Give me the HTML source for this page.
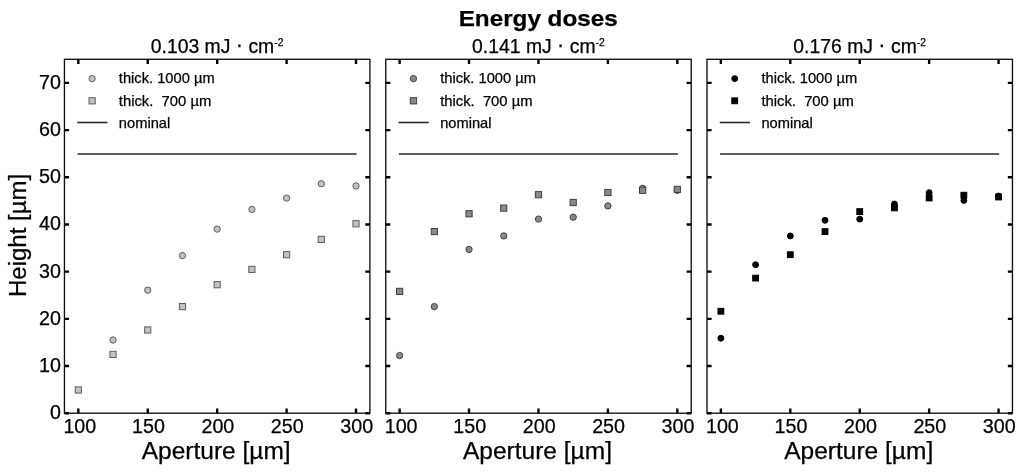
<!DOCTYPE html>
<html lang="en"><head><meta charset="utf-8"><title>Energy doses</title>
<style>html,body{margin:0;padding:0;background:#fff;}body{width:1024px;height:474px;overflow:hidden;}svg{display:block;filter:blur(0.3px);}text{font-family:"Liberation Sans", Arial, Helvetica, sans-serif;fill:#000;stroke:#000;stroke-width:0.25px;}</style></head><body>
<svg width="1024" height="474" viewBox="0 0 1024 474">
<rect x="0" y="0" width="1024" height="474" fill="#fff"/>
<text x="458.7" y="25.6" font-size="22.9" font-weight="bold" textLength="159" lengthAdjust="spacingAndGlyphs">Energy doses</text>
<text transform="translate(26,297.0) rotate(-90)" font-size="23" textLength="123.2" lengthAdjust="spacingAndGlyphs">Height [µm]</text>
<g>
<text x="150.77" y="53.1" font-size="19.6" textLength="132.6" lengthAdjust="spacingAndGlyphs">0.103 mJ <tspan dy="-1.0" font-size="22">·</tspan><tspan dy="1.0"> cm</tspan><tspan font-size="10.4" dy="-7.6">-2</tspan></text>
<text x="141.67" y="459.4" font-size="23" textLength="149" lengthAdjust="spacingAndGlyphs">Aperture [µm]</text>
<line x1="77.53" y1="154.07" x2="356.62" y2="154.07" stroke="#2a2a2a" stroke-width="1.6"/>
<circle cx="113.04" cy="340.00" r="3.15" fill="#c2c2c2" stroke="#5e5e5e" stroke-width="1"/>
<circle cx="147.75" cy="290.20" r="3.15" fill="#c2c2c2" stroke="#5e5e5e" stroke-width="1"/>
<circle cx="182.46" cy="255.60" r="3.15" fill="#c2c2c2" stroke="#5e5e5e" stroke-width="1"/>
<circle cx="217.18" cy="229.10" r="3.15" fill="#c2c2c2" stroke="#5e5e5e" stroke-width="1"/>
<circle cx="251.89" cy="209.40" r="3.15" fill="#c2c2c2" stroke="#5e5e5e" stroke-width="1"/>
<circle cx="286.60" cy="198.10" r="3.15" fill="#c2c2c2" stroke="#5e5e5e" stroke-width="1"/>
<circle cx="321.31" cy="183.75" r="3.15" fill="#c2c2c2" stroke="#5e5e5e" stroke-width="1"/>
<circle cx="356.02" cy="185.90" r="3.15" fill="#c2c2c2" stroke="#5e5e5e" stroke-width="1"/>
<rect x="75.23" y="386.90" width="6.20" height="6.20" fill="#c2c2c2" stroke="#5e5e5e" stroke-width="1"/>
<rect x="109.94" y="351.30" width="6.20" height="6.20" fill="#c2c2c2" stroke="#5e5e5e" stroke-width="1"/>
<rect x="144.65" y="326.90" width="6.20" height="6.20" fill="#c2c2c2" stroke="#5e5e5e" stroke-width="1"/>
<rect x="179.36" y="303.50" width="6.20" height="6.20" fill="#c2c2c2" stroke="#5e5e5e" stroke-width="1"/>
<rect x="214.08" y="281.60" width="6.20" height="6.20" fill="#c2c2c2" stroke="#5e5e5e" stroke-width="1"/>
<rect x="248.79" y="266.30" width="6.20" height="6.20" fill="#c2c2c2" stroke="#5e5e5e" stroke-width="1"/>
<rect x="283.50" y="251.60" width="6.20" height="6.20" fill="#c2c2c2" stroke="#5e5e5e" stroke-width="1"/>
<rect x="318.21" y="236.30" width="6.20" height="6.20" fill="#c2c2c2" stroke="#5e5e5e" stroke-width="1"/>
<rect x="352.92" y="220.65" width="6.20" height="6.20" fill="#c2c2c2" stroke="#5e5e5e" stroke-width="1"/>
<text x="79.83" y="432.9" font-size="19.7" text-anchor="middle">100</text>
<text x="148.45" y="432.9" font-size="19.7" text-anchor="middle">150</text>
<text x="217.88" y="432.9" font-size="19.7" text-anchor="middle">200</text>
<text x="287.30" y="432.9" font-size="19.7" text-anchor="middle">250</text>
<text x="356.72" y="432.9" font-size="19.7" text-anchor="middle">300</text>
<text x="61.0" y="419.10" font-size="19.7" text-anchor="end">0</text>
<text x="61.0" y="371.91" font-size="19.7" text-anchor="end">10</text>
<text x="61.0" y="324.73" font-size="19.7" text-anchor="end">20</text>
<text x="61.0" y="277.54" font-size="19.7" text-anchor="end">30</text>
<text x="61.0" y="230.35" font-size="19.7" text-anchor="end">40</text>
<text x="61.0" y="183.17" font-size="19.7" text-anchor="end">50</text>
<text x="61.0" y="135.98" font-size="19.7" text-anchor="end">60</text>
<text x="61.0" y="88.79" font-size="19.7" text-anchor="end">70</text>
<path d="M78.33 413.20v-4.60M78.33 59.30v4.60M147.75 413.20v-4.60M147.75 59.30v4.60M217.18 413.20v-4.60M217.18 59.30v4.60M286.60 413.20v-4.60M286.60 59.30v4.60M356.02 413.20v-4.60M356.02 59.30v4.60M64.45 413.20h4.60M369.90 413.20h-4.60M64.45 366.01h4.60M369.90 366.01h-4.60M64.45 318.83h4.60M369.90 318.83h-4.60M64.45 271.64h4.60M369.90 271.64h-4.60M64.45 224.45h4.60M369.90 224.45h-4.60M64.45 177.27h4.60M369.90 177.27h-4.60M64.45 130.08h4.60M369.90 130.08h-4.60M64.45 82.89h4.60M369.90 82.89h-4.60" stroke="#000" stroke-width="2.40" fill="none"/>
<rect x="64.45" y="59.30" width="305.45" height="353.90" fill="none" stroke="#111" stroke-width="1.35"/>
<circle cx="92.15" cy="78.6" r="3.15" fill="#c2c2c2" stroke="#5e5e5e" stroke-width="1"/>
<rect x="89.05" y="97.70" width="6.20" height="6.20" fill="#c2c2c2" stroke="#5e5e5e" stroke-width="1"/>
<line x1="77.25" y1="122.5" x2="107.45" y2="122.5" stroke="#2a2a2a" stroke-width="1.6"/>
<text x="118.85" y="83.2" font-size="14.5" textLength="95.8" lengthAdjust="spacingAndGlyphs" xml:space="preserve">thick. 1000 µm</text>
<text x="118.85" y="105.6" font-size="14.5" textLength="92.4" lengthAdjust="spacingAndGlyphs" xml:space="preserve">thick.  700 µm</text>
<text x="118.85" y="127.7" font-size="14.5" textLength="51.4" lengthAdjust="spacingAndGlyphs">nominal</text>
</g>
<g>
<text x="472.08" y="53.1" font-size="19.6" textLength="132.6" lengthAdjust="spacingAndGlyphs">0.141 mJ <tspan dy="-1.0" font-size="22">·</tspan><tspan dy="1.0"> cm</tspan><tspan font-size="10.4" dy="-7.6">-2</tspan></text>
<text x="462.98" y="459.4" font-size="23" textLength="149" lengthAdjust="spacingAndGlyphs">Aperture [µm]</text>
<line x1="398.83" y1="154.07" x2="677.92" y2="154.07" stroke="#2a2a2a" stroke-width="1.6"/>
<circle cx="399.63" cy="355.60" r="3.15" fill="#8a8a8a" stroke="#404040" stroke-width="1"/>
<circle cx="434.34" cy="306.60" r="3.15" fill="#8a8a8a" stroke="#404040" stroke-width="1"/>
<circle cx="469.05" cy="249.40" r="3.15" fill="#8a8a8a" stroke="#404040" stroke-width="1"/>
<circle cx="503.76" cy="235.90" r="3.15" fill="#8a8a8a" stroke="#404040" stroke-width="1"/>
<circle cx="538.48" cy="219.10" r="3.15" fill="#8a8a8a" stroke="#404040" stroke-width="1"/>
<circle cx="573.19" cy="217.20" r="3.15" fill="#8a8a8a" stroke="#404040" stroke-width="1"/>
<circle cx="607.90" cy="205.90" r="3.15" fill="#8a8a8a" stroke="#404040" stroke-width="1"/>
<circle cx="642.61" cy="188.40" r="3.15" fill="#8a8a8a" stroke="#404040" stroke-width="1"/>
<circle cx="677.32" cy="190.30" r="3.15" fill="#8a8a8a" stroke="#404040" stroke-width="1"/>
<rect x="396.53" y="288.30" width="6.20" height="6.20" fill="#8a8a8a" stroke="#404040" stroke-width="1"/>
<rect x="431.24" y="228.50" width="6.20" height="6.20" fill="#8a8a8a" stroke="#404040" stroke-width="1"/>
<rect x="465.95" y="210.65" width="6.20" height="6.20" fill="#8a8a8a" stroke="#404040" stroke-width="1"/>
<rect x="500.66" y="205.00" width="6.20" height="6.20" fill="#8a8a8a" stroke="#404040" stroke-width="1"/>
<rect x="535.38" y="191.60" width="6.20" height="6.20" fill="#8a8a8a" stroke="#404040" stroke-width="1"/>
<rect x="570.09" y="199.40" width="6.20" height="6.20" fill="#8a8a8a" stroke="#404040" stroke-width="1"/>
<rect x="604.80" y="189.40" width="6.20" height="6.20" fill="#8a8a8a" stroke="#404040" stroke-width="1"/>
<rect x="639.51" y="187.20" width="6.20" height="6.20" fill="#8a8a8a" stroke="#404040" stroke-width="1"/>
<rect x="674.22" y="186.30" width="6.20" height="6.20" fill="#8a8a8a" stroke="#404040" stroke-width="1"/>
<text x="401.13" y="432.9" font-size="19.7" text-anchor="middle">100</text>
<text x="469.75" y="432.9" font-size="19.7" text-anchor="middle">150</text>
<text x="539.18" y="432.9" font-size="19.7" text-anchor="middle">200</text>
<text x="608.60" y="432.9" font-size="19.7" text-anchor="middle">250</text>
<text x="678.02" y="432.9" font-size="19.7" text-anchor="middle">300</text>
<path d="M399.63 413.20v-4.60M399.63 59.30v4.60M469.05 413.20v-4.60M469.05 59.30v4.60M538.48 413.20v-4.60M538.48 59.30v4.60M607.90 413.20v-4.60M607.90 59.30v4.60M677.32 413.20v-4.60M677.32 59.30v4.60M385.75 413.20h4.60M691.20 413.20h-4.60M385.75 366.01h4.60M691.20 366.01h-4.60M385.75 318.83h4.60M691.20 318.83h-4.60M385.75 271.64h4.60M691.20 271.64h-4.60M385.75 224.45h4.60M691.20 224.45h-4.60M385.75 177.27h4.60M691.20 177.27h-4.60M385.75 130.08h4.60M691.20 130.08h-4.60M385.75 82.89h4.60M691.20 82.89h-4.60" stroke="#000" stroke-width="2.40" fill="none"/>
<rect x="385.75" y="59.30" width="305.45" height="353.90" fill="none" stroke="#111" stroke-width="1.35"/>
<circle cx="413.45" cy="78.6" r="3.15" fill="#8a8a8a" stroke="#404040" stroke-width="1"/>
<rect x="410.35" y="97.70" width="6.20" height="6.20" fill="#8a8a8a" stroke="#404040" stroke-width="1"/>
<line x1="398.55" y1="122.5" x2="428.75" y2="122.5" stroke="#2a2a2a" stroke-width="1.6"/>
<text x="440.15" y="83.2" font-size="14.5" textLength="95.8" lengthAdjust="spacingAndGlyphs" xml:space="preserve">thick. 1000 µm</text>
<text x="440.15" y="105.6" font-size="14.5" textLength="92.4" lengthAdjust="spacingAndGlyphs" xml:space="preserve">thick.  700 µm</text>
<text x="440.15" y="127.7" font-size="14.5" textLength="51.4" lengthAdjust="spacingAndGlyphs">nominal</text>
</g>
<g>
<text x="793.33" y="53.1" font-size="19.6" textLength="132.6" lengthAdjust="spacingAndGlyphs">0.176 mJ <tspan dy="-1.0" font-size="22">·</tspan><tspan dy="1.0"> cm</tspan><tspan font-size="10.4" dy="-7.6">-2</tspan></text>
<text x="784.23" y="459.4" font-size="23" textLength="149" lengthAdjust="spacingAndGlyphs">Aperture [µm]</text>
<line x1="720.08" y1="154.07" x2="999.17" y2="154.07" stroke="#2a2a2a" stroke-width="1.6"/>
<circle cx="720.88" cy="338.20" r="2.95" fill="#000" stroke="#000" stroke-width="1"/>
<circle cx="755.59" cy="264.70" r="2.95" fill="#000" stroke="#000" stroke-width="1"/>
<circle cx="790.30" cy="235.90" r="2.95" fill="#000" stroke="#000" stroke-width="1"/>
<circle cx="825.01" cy="220.30" r="2.95" fill="#000" stroke="#000" stroke-width="1"/>
<circle cx="859.73" cy="219.10" r="2.95" fill="#000" stroke="#000" stroke-width="1"/>
<circle cx="894.44" cy="204.00" r="2.95" fill="#000" stroke="#000" stroke-width="1"/>
<circle cx="929.15" cy="192.70" r="2.95" fill="#000" stroke="#000" stroke-width="1"/>
<circle cx="963.86" cy="200.40" r="2.95" fill="#000" stroke="#000" stroke-width="1"/>
<circle cx="998.57" cy="196.00" r="2.95" fill="#000" stroke="#000" stroke-width="1"/>
<rect x="717.98" y="308.35" width="5.80" height="5.80" fill="#000" stroke="#000" stroke-width="1"/>
<rect x="752.69" y="275.20" width="5.80" height="5.80" fill="#000" stroke="#000" stroke-width="1"/>
<rect x="787.40" y="251.80" width="5.80" height="5.80" fill="#000" stroke="#000" stroke-width="1"/>
<rect x="822.11" y="228.70" width="5.80" height="5.80" fill="#000" stroke="#000" stroke-width="1"/>
<rect x="856.83" y="208.70" width="5.80" height="5.80" fill="#000" stroke="#000" stroke-width="1"/>
<rect x="891.54" y="205.00" width="5.80" height="5.80" fill="#000" stroke="#000" stroke-width="1"/>
<rect x="926.25" y="195.10" width="5.80" height="5.80" fill="#000" stroke="#000" stroke-width="1"/>
<rect x="960.96" y="192.30" width="5.80" height="5.80" fill="#000" stroke="#000" stroke-width="1"/>
<rect x="995.67" y="194.10" width="5.80" height="5.80" fill="#000" stroke="#000" stroke-width="1"/>
<text x="722.38" y="432.9" font-size="19.7" text-anchor="middle">100</text>
<text x="791.00" y="432.9" font-size="19.7" text-anchor="middle">150</text>
<text x="860.43" y="432.9" font-size="19.7" text-anchor="middle">200</text>
<text x="929.85" y="432.9" font-size="19.7" text-anchor="middle">250</text>
<text x="999.27" y="432.9" font-size="19.7" text-anchor="middle">300</text>
<path d="M720.88 413.20v-4.60M720.88 59.30v4.60M790.30 413.20v-4.60M790.30 59.30v4.60M859.73 413.20v-4.60M859.73 59.30v4.60M929.15 413.20v-4.60M929.15 59.30v4.60M998.57 413.20v-4.60M998.57 59.30v4.60M707.00 413.20h4.60M1012.45 413.20h-4.60M707.00 366.01h4.60M1012.45 366.01h-4.60M707.00 318.83h4.60M1012.45 318.83h-4.60M707.00 271.64h4.60M1012.45 271.64h-4.60M707.00 224.45h4.60M1012.45 224.45h-4.60M707.00 177.27h4.60M1012.45 177.27h-4.60M707.00 130.08h4.60M1012.45 130.08h-4.60M707.00 82.89h4.60M1012.45 82.89h-4.60" stroke="#000" stroke-width="2.40" fill="none"/>
<rect x="707.00" y="59.30" width="305.45" height="353.90" fill="none" stroke="#111" stroke-width="1.35"/>
<circle cx="734.70" cy="78.6" r="2.95" fill="#000" stroke="#000" stroke-width="1"/>
<rect x="731.80" y="97.90" width="5.80" height="5.80" fill="#000" stroke="#000" stroke-width="1"/>
<line x1="719.80" y1="122.5" x2="750.00" y2="122.5" stroke="#2a2a2a" stroke-width="1.6"/>
<text x="761.40" y="83.2" font-size="14.5" textLength="95.8" lengthAdjust="spacingAndGlyphs" xml:space="preserve">thick. 1000 µm</text>
<text x="761.40" y="105.6" font-size="14.5" textLength="92.4" lengthAdjust="spacingAndGlyphs" xml:space="preserve">thick.  700 µm</text>
<text x="761.40" y="127.7" font-size="14.5" textLength="51.4" lengthAdjust="spacingAndGlyphs">nominal</text>
</g>
</svg></body></html>
